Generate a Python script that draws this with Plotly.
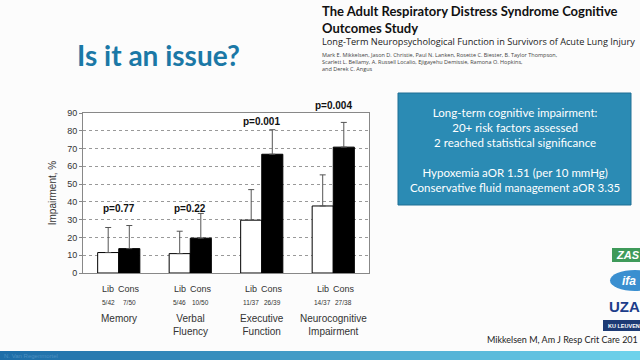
import plotly.graph_objects as go

categories = ["Memory", "Verbal<br>Fluency", "Executive<br>Function", "Neurocognitive<br>Impairment"]
lib_values = [11.5, 10.9, 29.7, 37.7]
cons_values = [13.7, 19.6, 66.8, 70.8]
lib_upper = [25.6, 23.5, 46.9, 55.2]
cons_upper = [26.7, 33.5, 80.6, 84.7]
lib_counts = ["5/42", "5/46", "11/37", "14/37"]
cons_counts = ["7/50", "10/50", "26/39", "27/38"]
p_values = ["p=0.77", "p=0.22", "p=0.001", "p=0.004"]
p_heights = [36.5, 36.5, 85.5, 94.5]
y_ticks = [0, 10, 20, 30, 40, 50, 60, 70, 80, 90]

lib_err = [u - v for u, v in zip(lib_upper, lib_values)]
cons_err = [u - v for u, v in zip(cons_upper, cons_values)]
xs = list(range(len(categories)))
Y_MAX = 90

fig = go.Figure()
fig.add_trace(go.Bar(
    x=xs, y=lib_values, name="Lib",
    marker=dict(color="white", line=dict(color="black", width=1)),
    error_y=dict(type="data", array=lib_err, arrayminus=[0] * 4, symmetric=False,
                 color="#555555", thickness=1, width=3),
))
fig.add_trace(go.Bar(
    x=xs, y=cons_values, name="Cons",
    marker=dict(color="black", line=dict(color="black", width=1)),
    error_y=dict(type="data", array=cons_err, arrayminus=[0] * 4, symmetric=False,
                 color="#555555", thickness=1, width=3),
))

W, H = 640, 360
L, R, T, B = 83, 369, 113, 273


def px(pix):
    return (pix - L) / (R - L)


def py(pix):
    return (B - pix) / (B - T)


fig.update_layout(
    width=W, height=H,
    margin=dict(l=L, r=W - R, t=T, b=H - B),
    paper_bgcolor="#fcfcfc", plot_bgcolor="white",
    barmode="group", bargap=0.41, bargroupgap=0,
    showlegend=False,
    font=dict(family="Arial, Liberation Sans", color="#222"),
)
fig.update_xaxes(range=[-0.5, 3.5], showticklabels=False, showgrid=False,
                 showline=True, linecolor="#888", linewidth=1, mirror=True,
                 zeroline=False, ticks="")
fig.update_yaxes(range=[0, Y_MAX], tickvals=y_ticks, showgrid=True,
                 gridcolor="#999", griddash="dot", gridwidth=1,
                 showline=True, linecolor="#888", linewidth=1, mirror=True,
                 ticks="outside", ticklen=3, tickcolor="#888",
                 tickfont=dict(size=9, family="Arial, Liberation Sans", color="#333"),
                 zeroline=False,
                 title=dict(text="Impairment, %", font=dict(size=10, color="#333"), standoff=8))


def txt(xpix, ypix, text, size, color, family="Arial, Liberation Sans", xanchor="center",
        align="center"):
    fig.add_annotation(x=px(xpix), y=py(ypix), xref="paper", yref="paper", xanchor=xanchor,
                       yanchor="middle", text=text, showarrow=False, align=align,
                       font=dict(size=size, color=color, family=family))


off = 0.145
for i in xs:
    for dx, lab, cnt in ((-off, "Lib", lib_counts[i]), (off, "Cons", cons_counts[i])):
        fig.add_annotation(x=i + dx, y=py(289), xref="x", yref="paper", xanchor="center",
                           yanchor="middle", text=lab, showarrow=False,
                           font=dict(size=9, color="#333"))
        fig.add_annotation(x=i + dx, y=py(302), xref="x", yref="paper", xanchor="center",
                           yanchor="middle", text=cnt, showarrow=False,
                           font=dict(size=6.5, color="#333"))
    fig.add_annotation(x=i, y=py(311), xref="x", yref="paper", xanchor="center", yanchor="top",
                       text=categories[i], showarrow=False, font=dict(size=10, color="#333"))
    fig.add_annotation(x=i, y=p_heights[i] / Y_MAX, xref="x", yref="paper", xanchor="center",
                       yanchor="middle", text="<b>" + p_values[i] + "</b>", showarrow=False,
                       font=dict(size=10, color="#111"))

# slide title
txt(75, 55, "<b>Is it an issue?</b>", 28, "#1b78a6", "Lato", xanchor="left")

# paper header
txt(320, 19, "<b>The Adult Respiratory Distress Syndrome Cognitive<br>Outcomes Study</b>",
    13, "#111", "Lato", xanchor="left", align="left")
txt(320, 41, "Long-Term Neuropsychological Function in Survivors of Acute Lung Injury",
    9.2, "#222", "Open Sans, Noto Sans", xanchor="left")
authors = ["Mark E. Mikkelsen, Jason D. Christie, Paul N. Lanken, Rosette C. Biester, B. Taylor Thompson,",
           "Scarlett L. Bellamy, A. Russell Localio, Ejigayehu Demissie, Ramona O. Hopkins,",
           "and Derek C. Angus"]
txt(320, 62, "<br>".join(authors), 5.5, "#444", "Open Sans, Noto Sans", xanchor="left", align="left")

shapes = []
# blue box
shapes.append(dict(type="rect", xref="paper", yref="paper",
                   x0=px(398), x1=px(631), y0=py(205), y1=py(93),
                   fillcolor="#2b8bb4", line=dict(color="#1f6f94", width=1), layer="below"))
box_lines = ["Long-term cognitive impairment:", "20+ risk factors assessed",
             "2 reached statistical significance", "", "Hypoxemia aOR 1.51 (per 10 mmHg)",
             "Conservative fluid management aOR 3.35"]
txt(515, 150, "<br>".join(box_lines), 11.5, "white", "Lato")

# bottom gradient bar
n = 32
c0 = (30, 110, 168)
c1 = (110, 210, 235)
for k in range(n):
    t = k / (n - 1)
    col = "rgb(%d,%d,%d)" % tuple(int(a + (b - a) * t) for a, b in zip(c0, c1))
    shapes.append(dict(type="rect", xref="paper", yref="paper",
                       x0=px(k * W / n), x1=px((k + 1) * W / n + 1),
                       y0=py(361), y1=py(351), fillcolor=col, line=dict(width=0)))
txt(2, 356, "N. Van Regenmortel", 6, "#4a8fc0", xanchor="left")
txt(640, 339, "Mikkelsen M, Am J Resp Crit Care 201", 9, "#222", "Lato", xanchor="right")

# logos
shapes.append(dict(type="rect", xref="paper", yref="paper",
                   x0=px(612), x1=px(650), y0=py(262), y1=py(248),
                   fillcolor="#3e9a5a", line=dict(width=0)))
txt(614, 255, "<b><i>ZAS</i></b>", 11, "white", xanchor="left")
shapes.append(dict(type="circle", xref="paper", yref="paper",
                   x0=px(610), x1=px(660), y0=py(291), y1=py(270),
                   fillcolor="#3a8fd0", line=dict(width=0)))
txt(620, 281, "<b><i>ifa</i></b>", 12, "white", xanchor="left")
txt(607, 306, "<b>UZA</b>", 15, "#1c3d8a", "Liberation Sans", xanchor="left")
shapes.append(dict(type="rect", xref="paper", yref="paper",
                   x0=px(603), x1=px(645), y0=py(331), y1=py(320),
                   fillcolor="#1d3b75", line=dict(width=0)))
txt(606, 325.5, "<b>KU LEUVEN</b>", 5.5, "white", xanchor="left")

fig.update_layout(shapes=shapes)
fig.write_html("out.html", config={"displayModeBar": False},
               post_script="document.body.style.margin='0';")
